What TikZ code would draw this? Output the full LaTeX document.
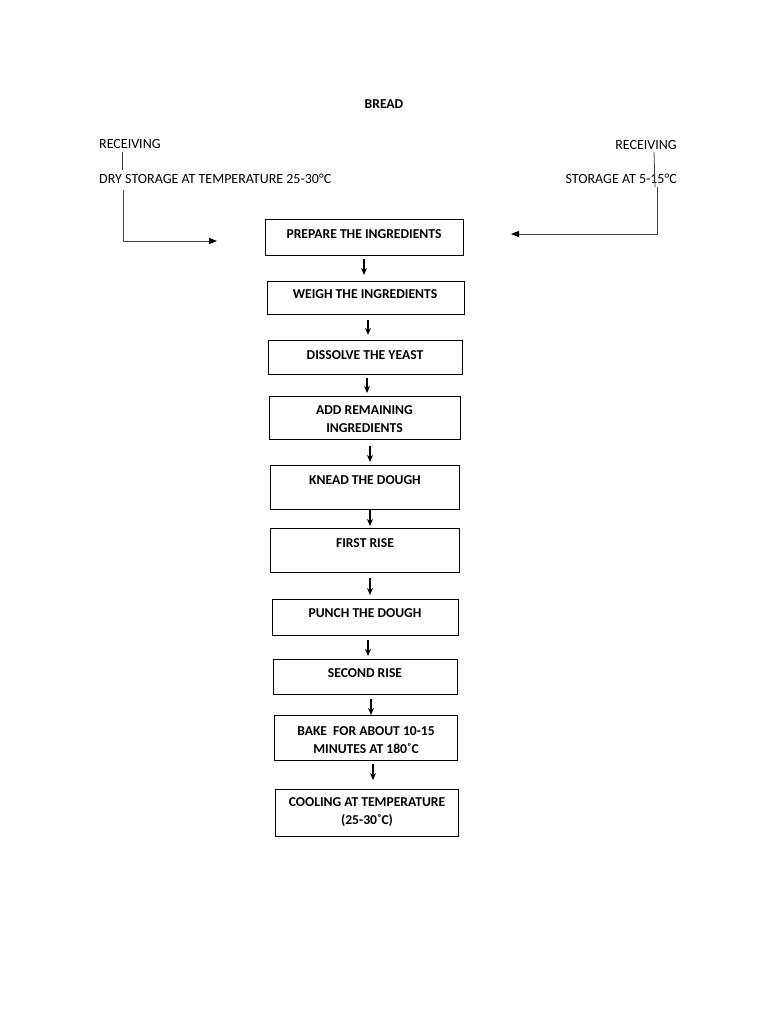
\documentclass[tikz,border=0pt]{standalone}
\usepackage{fontspec}
\setmainfont{Carlito}
\usetikzlibrary{arrows.meta}
\begin{document}
\begin{tikzpicture}[x=1pt,y=-1pt,
  box/.style={draw=black,line width=0.9pt,inner sep=0pt},
  lbl/.style={font=\bfseries\fontsize{13.6}{18}\selectfont,align=center,inner sep=0pt},
  plain/.style={font=\fontsize{14}{16}\selectfont,inner sep=0pt},
  arr/.style={line width=1.4pt,-{Stealth[length=7pt,width=6pt]}},
  feed/.style={draw=black!75,line width=0.8pt},
  feedarr/.style={feed,-{Triangle[length=8pt,width=6pt,fill=black,color=black]}}]
\useasboundingbox (0,0) rectangle (768,1024);
\fill[white] (0,0) rectangle (768,1024);

\node[lbl] (title) at (384,104) {BREAD};

% left side
\node[plain,anchor=west] (recL) at (99,144) {RECEIVING};
\node[plain,anchor=west] (dryL) at (99,179) {DRY STORAGE AT TEMPERATURE 25-30°C};
\coordinate (recLb) at (122,152);
\coordinate (dryLt) at (122,170);
\coordinate (dryLb) at (123,190);
\coordinate (inL) at (217,241);
\draw[feed] (recLb) -- (dryLt);
\draw[feedarr] (dryLb) |- (inL);

% right side
\node[plain,anchor=east] (recR) at (677,145) {RECEIVING};
\node[plain,anchor=east] (stoR) at (677,179) {STORAGE AT 5-15°C};
\coordinate (recRb) at (654,152);
\coordinate (stoRt) at (655,187);
\coordinate (stoRb) at (657,187);
\coordinate (inR) at (511,234);
\draw[feed] (recRb) -- (stoRt);
\draw[feedarr] (stoRb) |- (inR);

% boxes
\node[box,minimum width=198,minimum height=36] (b1) at (364,237) {};
\node[lbl] at (364,234) {PREPARE THE INGREDIENTS};
\node[box,minimum width=197,minimum height=33] (b2) at (365.5,297.5) {};
\node[lbl] at (365,294) {WEIGH THE INGREDIENTS};
\node[box,minimum width=194,minimum height=34] (b3) at (365,357) {};
\node[lbl] at (365,355) {DISSOLVE THE YEAST};
\node[box,minimum width=191,minimum height=43] (b4) at (364.5,417.5) {};
\node[lbl] at (364.5,419) {ADD REMAINING\\INGREDIENTS};
\node[box,minimum width=189,minimum height=44] (b5) at (364.5,487) {};
\node[lbl] at (365,480) {KNEAD THE DOUGH};
\node[box,minimum width=189,minimum height=44] (b6) at (364.5,550) {};
\node[lbl] at (365,543) {FIRST RISE};
\node[box,minimum width=186,minimum height=36] (b7) at (365,617) {};
\node[lbl] at (365,613) {PUNCH THE DOUGH};
\node[box,minimum width=184,minimum height=35] (b8) at (365,676.5) {};
\node[lbl] at (365,673) {SECOND RISE};
\node[box,minimum width=183,minimum height=45] (b9) at (365.5,737.5) {};
\node[lbl] at (366,740) {BAKE\ \ FOR ABOUT 10-15\\MINUTES AT 180˚C};
\node[box,minimum width=183,minimum height=47] (b10) at (366.5,812.5) {};
\node[lbl] at (367,812) {COOLING AT TEMPERATURE\\(25-30˚C)};

% arrows
\coordinate (a1s) at (364,259); \coordinate (a1e) at (364,275);
\coordinate (a2s) at (368,320); \coordinate (a2e) at (368,335);
\coordinate (a3s) at (367,378); \coordinate (a3e) at (367,393);
\coordinate (a4s) at (370,446); \coordinate (a4e) at (370,462);
\coordinate (a5s) at (370,510); \coordinate (a5e) at (370,526);
\coordinate (a6s) at (370,578); \coordinate (a6e) at (370,595);
\coordinate (a7s) at (368,640); \coordinate (a7e) at (368,656);
\coordinate (a8s) at (371,699); \coordinate (a8e) at (371,715);
\coordinate (a9s) at (373,764); \coordinate (a9e) at (373,780);
\foreach \i in {1,...,9} {\draw[arr] (a\i s) -- (a\i e);}
\end{tikzpicture}
\end{document}
